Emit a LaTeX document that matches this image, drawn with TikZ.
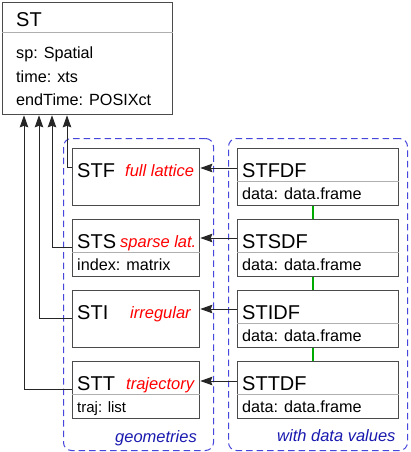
\documentclass[tikz,border=0pt]{standalone}
\usepackage{fontspec}
\setmainfont{Liberation Sans}
\usetikzlibrary{arrows.meta}
\definecolor{boxgray}{RGB}{75,75,75}
\definecolor{divgray}{RGB}{175,175,175}
\definecolor{grpblue}{RGB}{70,70,220}
\definecolor{lblblue}{RGB}{25,25,175}
\definecolor{linkgreen}{RGB}{0,170,0}
\newcommand{\hdfont}{\fontsize{20}{24}\selectfont}
\newcommand{\atfont}{\fontsize{16.2}{19}\selectfont}
\newcommand{\smfont}{\fontsize{15}{18}\selectfont}
\newcommand{\lbfont}{\fontsize{16.5}{20}\selectfont\itshape}
\tikzset{
  classbox/.style={draw=boxgray, line width=1.3pt, fill=white, inner sep=0pt, anchor=north west},
  grp/.style={draw=grpblue, line width=1pt, dash pattern=on 6.5pt off 4pt, rounded corners=8pt, inner sep=0pt, anchor=north west},
  divider/.style={draw=divgray, line width=1pt},
  txt/.style={inner sep=0pt, anchor=base west},
  hd/.style={txt, font=\hdfont},
  attr/.style={txt, font=\atfont},
  kind/.style={txt, font=\lbfont, text=red},
  grplbl/.style={txt, font=\lbfont, text=lblblue},
  arr/.style={draw=black!85, line width=1pt, -{Stealth[length=12pt,width=8.5pt,inset=1.5pt]}},
  glink/.style={draw=linkgreen, line width=1.2pt},
}
\begin{document}
\begin{tikzpicture}[x=1pt,y=-1pt]
\useasboundingbox (0,0) rectangle (410,452);
% groups
\node[grp, minimum width=150pt, minimum height=312pt] (geo) at (63,138) {};
\node[grp, minimum width=179pt, minimum height=312pt] (dv) at (228,138) {};
\node[grplbl] (geolbl) at (115,442) {geometries};
\node[grplbl] (dvlbl) at (277,441) {with data values};
% ST
\node[classbox, minimum width=170pt, minimum height=112pt] (st) at (2,2) {};
\draw[divider] ([yshift=-31pt]st.north west) -- ([yshift=-31pt]st.north east);
\node[hd] (sttxt) at (16,27) {ST};
\node[attr] (sta1) at (16,59) {sp: Spatial};
\node[attr] (sta2) at (16,82) {time: xts};
\node[attr] (sta3) at (16,105) {endTime: POSIXct};
% left column
\node[classbox, minimum width=127pt, minimum height=57pt] (stf) at (72,148) {};
\node[classbox, minimum width=127pt, minimum height=57pt] (sts) at (72,219) {};
\node[classbox, minimum width=127pt, minimum height=57pt] (sti) at (72,290) {};
\node[classbox, minimum width=127pt, minimum height=57pt] (stt) at (72,361) {};
\draw[divider] ([yshift=-33pt]sts.north west) -- ([yshift=-33pt]sts.north east);
\draw[divider] ([yshift=-33pt]stt.north west) -- ([yshift=-33pt]stt.north east);
\node[hd] (stftxt) at (77,177) {STF};
\node[kind] (stfk) at (125,176) {full lattice};
\node[hd] (ststxt) at (77,248) {STS};
\node[kind] (stsk) at (120,247) {sparse lat.};
\node[attr] (stsa) at (77,270) {index: matrix};
\node[hd] (stitxt) at (77,319) {STI};
\node[kind] (stik) at (130,318) {irregular};
\node[hd] (stttxt) at (77,390) {STT};
\node[kind] (sttk) at (126,389) {trajectory};
\node[txt, font=\smfont] (stta) at (77,412) {traj: list};
% right column
\node[classbox, minimum width=161pt, minimum height=57pt] (stfdf) at (237,148) {};
\node[classbox, minimum width=161pt, minimum height=57pt] (stsdf) at (237,219) {};
\node[classbox, minimum width=161pt, minimum height=57pt] (stidf) at (237,290) {};
\node[classbox, minimum width=161pt, minimum height=57pt] (sttdf) at (237,361) {};
\foreach \b in {stfdf,stsdf,stidf,sttdf}{
  \draw[divider] ([yshift=-33pt]\b.north west) -- ([yshift=-33pt]\b.north east);
}
\node[hd] (stfdftxt) at (242,177) {STFDF};
\node[attr] (stfdfa) at (242,199) {data: data.frame};
\node[hd] (stsdftxt) at (242,248) {STSDF};
\node[attr] (stsdfa) at (242,270) {data: data.frame};
\node[hd] (stidftxt) at (242,319) {STIDF};
\node[attr] (stidfa) at (242,341) {data: data.frame};
\node[hd] (sttdftxt) at (242,390) {STTDF};
\node[attr] (sttdfa) at (242,412) {data: data.frame};
% green links
\draw[glink] ([xshift=76pt]stfdf.south west) -- ([xshift=76pt]stsdf.north west);
\draw[glink] ([xshift=76pt]stsdf.south west) -- ([xshift=76pt]stidf.north west);
\draw[glink] ([xshift=76pt]stidf.south west) -- ([xshift=76pt]sttdf.north west);
% horizontal arrows
\draw[arr] ([yshift=-20pt]stfdf.north west) -- ([yshift=-20pt]stf.north east);
\draw[arr] ([yshift=-19pt]stsdf.north west) -- ([yshift=-19pt]sts.north east);
\draw[arr] ([yshift=-19pt]stidf.north west) -- ([yshift=-19pt]sti.north east);
\draw[arr] ([yshift=-20pt]sttdf.north west) -- ([yshift=-20pt]stt.north east);
% inheritance arrows
\draw[arr] ([yshift=-19pt]stf.north west) -| ([xshift=65pt]st.south west);
\draw[arr] ([yshift=-28pt]sts.north west) -| ([xshift=50pt]st.south west);
\draw[arr] ([yshift=-28pt]sti.north west) -| ([xshift=37pt]st.south west);
\draw[arr] ([yshift=-28pt]stt.north west) -| ([xshift=22pt]st.south west);
\end{tikzpicture}
\end{document}
